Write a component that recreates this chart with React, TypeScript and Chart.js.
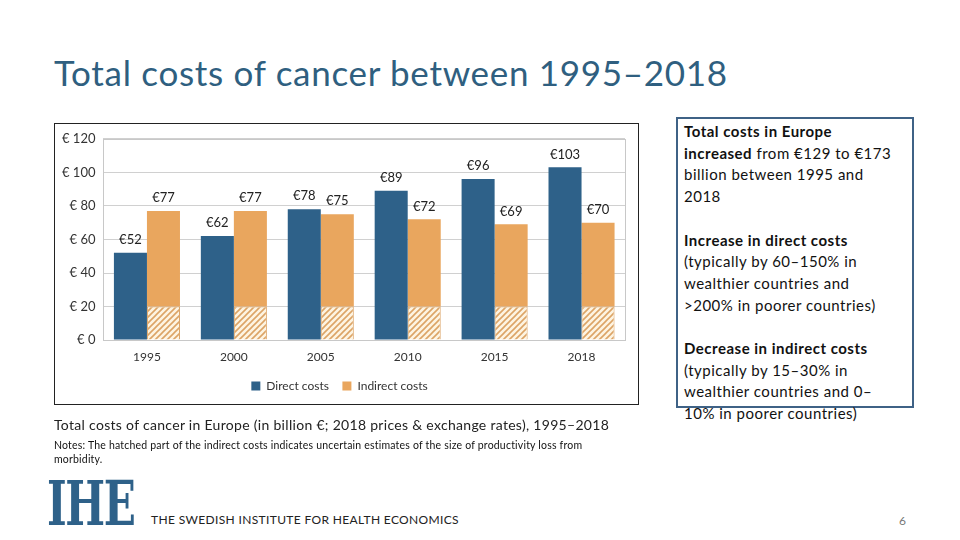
import React, { useEffect, useRef } from "react";
import { Chart, registerables } from "chart.js";

Chart.register(...registerables);

const years = ["1995", "2000", "2005", "2010", "2015", "2018"];
const directCosts = [52, 62, 78, 89, 96, 103];
const indirectCosts = [77, 77, 75, 72, 69, 70];
const hatchedPart = [20, 20, 20, 20, 20, 20];
const yTicks = [0, 20, 40, 60, 80, 100, 120];

const BLUE = "#2e6189";
const ORANGE = "#e9a65e";
const FONT = "Lato, 'Noto Sans', sans-serif";

function makeHatch(): CanvasPattern | string {
  const c = document.createElement("canvas");
  c.width = 6;
  c.height = 6;
  const g = c.getContext("2d");
  if (!g) return ORANGE;
  g.fillStyle = "#fdf4e2";
  g.fillRect(0, 0, 6, 6);
  g.strokeStyle = "#dca466";
  g.lineWidth = 1.6;
  g.beginPath();
  g.moveTo(-1, 7);
  g.lineTo(7, -1);
  g.moveTo(-4, 4);
  g.lineTo(4, -4);
  g.moveTo(2, 10);
  g.lineTo(10, 2);
  g.stroke();
  return g.createPattern(c, "repeat") || ORANGE;
}

const labelPlugin = {
  id: "valueLabels",
  afterDatasetsDraw(chart: any) {
    const ctx = chart.ctx;
    ctx.save();
    ctx.font = `13px ${FONT}`;
    ctx.fillStyle = "#222";
    ctx.textAlign = "center";
    ctx.textBaseline = "middle";
    const dMeta = chart.getDatasetMeta(0);
    dMeta.data.forEach((el: any, i: number) => {
      ctx.fillText("€" + directCosts[i], el.x, el.y - 13);
    });
    const iMeta = chart.getDatasetMeta(2);
    iMeta.data.forEach((el: any, i: number) => {
      ctx.fillText("€" + indirectCosts[i], el.x, el.y - 13);
    });
    ctx.restore();
  },
};

const framePlugin = {
  id: "plotFrame",
  afterDraw(chart: any) {
    const { ctx, chartArea } = chart;
    ctx.save();
    ctx.strokeStyle = "#c8c8c8";
    ctx.lineWidth = 1;
    ctx.strokeRect(
      Math.round(chartArea.left) + 0.5,
      Math.round(chartArea.top) + 0.5,
      Math.round(chartArea.right - chartArea.left),
      Math.round(chartArea.bottom - chartArea.top)
    );
    ctx.restore();
  },
};

function CostChart() {
  const ref = useRef<HTMLCanvasElement>(null);
  useEffect(() => {
    if (!ref.current) return;
    const hatch = makeHatch();
    const chart = new Chart(ref.current, {
      type: "bar",
      data: {
        labels: years,
        datasets: [
          {
            label: "Direct costs",
            data: directCosts,
            backgroundColor: BLUE,
            stack: "direct",
          },
          {
            label: "Hatched",
            data: hatchedPart,
            backgroundColor: hatch as any,
            borderColor: "#dca466",
            borderWidth: 1,
            stack: "indirect",
          },
          {
            label: "Indirect costs",
            data: indirectCosts.map((v, i) => v - hatchedPart[i]),
            backgroundColor: ORANGE,
            stack: "indirect",
          },
        ],
      },
      options: {
        animation: false,
        responsive: false,
        maintainAspectRatio: false,
        datasets: {
          bar: { categoryPercentage: 0.76, barPercentage: 1.0 },
        },
        layout: { padding: { left: 0, right: 14, top: 14, bottom: 3 } },
        scales: {
          x: {
            stacked: true,
            grid: { display: false },
            border: { color: "#c8c8c8" },
            ticks: { color: "#333", font: { family: FONT, size: 12 }, padding: 2 },
          },
          y: {
            stacked: true,
            min: 0,
            max: 120,
            afterBuildTicks: (axis: any) => {
              axis.ticks = yTicks.map((v) => ({ value: v }));
            },
            grid: { color: "#d0d0d0", drawTicks: false },
            border: { display: false },
            ticks: {
              color: "#333",
              font: { family: FONT, size: 13 },
              padding: 8,
              callback: (v: any) => "€ " + v,
            },
          },
        },
        plugins: {
          legend: {
            position: "bottom",
            labels: {
              boxWidth: 9,
              boxHeight: 9,
              color: "#333",
              font: { family: FONT, size: 12 },
              padding: 13.5,
              filter: (item: any) => item.text !== "Hatched",
            },
          },
          tooltip: { enabled: false },
        },
      },
      plugins: [labelPlugin, framePlugin],
    });
    return () => chart.destroy();
  }, []);
  return <canvas ref={ref} width={585} height={282} style={{ display: "block" }} />;
}

export default function App() {
  const abs = (l: number, t: number): React.CSSProperties => ({ position: "absolute", left: l, top: t });
  return (
    <div style={{ position: "absolute", left: 0, top: 0, width: 960, height: 540, background: "#fff", overflow: "hidden", fontFamily: FONT }}>
      <div style={{ ...abs(54, 50), fontSize: 35, color: "#2f5f80", whiteSpace: "nowrap", lineHeight: "44px", letterSpacing: 0.7 }}>
        Total costs of cancer between 1995–2018
      </div>
      <div style={{ ...abs(54, 123) }}>
        <CostChart />
      </div>
      <div style={{ ...abs(54, 123), width: 585, height: 282, border: "1px solid #222", boxSizing: "border-box", pointerEvents: "none" }} />
      <div style={{ ...abs(54, 416), fontSize: 14, color: "#222", whiteSpace: "nowrap", letterSpacing: 0.3 }}>
        Total costs of cancer in Europe (in billion €; 2018 prices &amp; exchange rates), 1995–2018
      </div>
      <div style={{ ...abs(54, 438), fontSize: 10.5, color: "#111", lineHeight: "14px", whiteSpace: "nowrap", letterSpacing: 0.2 }}>
        Notes: The hatched part of the indirect costs indicates uncertain estimates of the size of productivity loss from
        <br />
        morbidity.
      </div>
      <div
        style={{
          ...abs(676, 117),
          width: 238,
          height: 291,
          border: "2.5px solid #3f6286",
          boxSizing: "border-box",
        }}
      />
      <div style={{ ...abs(684, 121), fontSize: 15, color: "#111", lineHeight: "21.7px", whiteSpace: "nowrap", letterSpacing: 0.5 }}>
        <b>Total costs in Europe</b>
        <br />
        <b>increased</b> from €129 to €173
        <br />
        billion between 1995 and
        <br />
        2018
        <br />
        <br />
        <b>Increase in direct costs</b>
        <br />
        (typically by 60–150% in
        <br />
        wealthier countries and
        <br />
        &gt;200% in poorer countries)
        <br />
        <br />
        <b>Decrease in indirect costs</b>
        <br />
        (typically by 15–30% in
        <br />
        wealthier countries and 0–
        <br />
        10% in poorer countries)
      </div>
      <div
        style={{
          ...abs(47, 469),
          fontFamily: "'DejaVu Serif', serif",
          fontWeight: 900,
          fontSize: 62,
          color: BLUE,
          letterSpacing: -2,
          transform: "scaleX(0.68)",
          transformOrigin: "left top",
          lineHeight: "70px",
          whiteSpace: "nowrap",
        }}
      >
        IHE
      </div>
      <div style={{ ...abs(151, 512), fontSize: 12, color: "#222", whiteSpace: "nowrap", letterSpacing: 0.35 }}>
        THE SWEDISH INSTITUTE FOR HEALTH ECONOMICS
      </div>
      <div style={{ ...abs(899, 513), fontSize: 12, color: "#777" }}>6</div>
    </div>
  );
}
